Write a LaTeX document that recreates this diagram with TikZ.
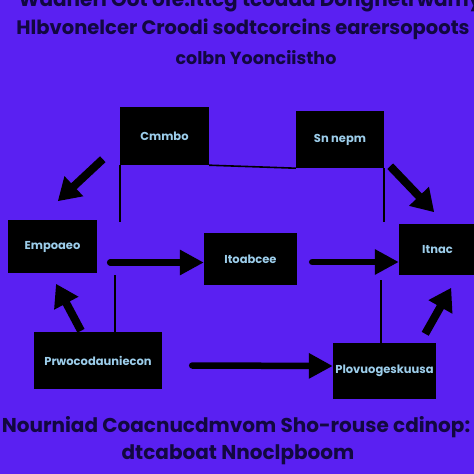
\documentclass[tikz,border=0pt]{standalone}
\usepackage{fontspec}
\setmainfont{Poppins}
\usetikzlibrary{arrows.meta}
\definecolor{bgblue}{HTML}{5A20F2}
\definecolor{inkdark}{HTML}{120840}
\definecolor{boxtext}{HTML}{9CCDEA}
\begin{document}
\begin{tikzpicture}[x=1pt,y=-1pt,
    box/.style={fill=black, text=boxtext, inner sep=0pt, font=\fontsize{11.5}{11.5}\selectfont\bfseries},
    caption/.style={text=inkdark, inner sep=0pt, font=\fontsize{20}{20}\selectfont\bfseries},
    thin line/.style={draw=black, line width=1.6pt},
    big arrow/.style={draw=black, line width=8pt, -{Triangle[length=22pt,width=26pt]}},
    small arrow/.style={draw=black, line width=6.5pt, line cap=round, -{Triangle[length=24pt,width=24pt]}}]

    % Hintergrund und Rahmen
    \fill[bgblue] (0,0) rectangle (474,474);
    \useasboundingbox (0,0) rectangle (474,474);

    % Titel oben
    \node[caption] (t0) at (250,1) {Wadnerl Oot ofe:lttcg tcoaaa Donghetrwamy};
    \node[caption, font=\fontsize{19.5}{19.5}\selectfont\bfseries] (t1) at (243,29) {Hlbvonelcer Croodi sodtcorcins earersopoots};
    \node[caption, font=\fontsize{17.5}{17.5}\selectfont\bfseries] (t2) at (256,58) {colbn Yoonciistho};

    % Kaesten
    \node[box, minimum width=89pt, minimum height=58pt] (cmmbo) at (164.5,136) {Cmmbo};
    \node[box, minimum width=88pt, minimum height=57pt] (snepm) at (340,139.5) {Sn nepm};
    \node[box, minimum width=89pt, minimum height=53pt] (empo) at (52.5,246.5) {Empoaeo};
    \node[box, minimum width=93pt, minimum height=52pt] (itoab) at (250.5,259) {Itoabcee};
    \node[box, minimum width=77pt, minimum height=51pt] (itnac) at (437.5,249.5) {Itnac};
    \node[box, minimum width=128pt, minimum height=57pt] (prwo) at (98,360.5) {Prwocodauniecon};
    \node[box, minimum width=103pt, minimum height=56pt] (plov) at (384.5,371) {Plovuogeskuusa};

    % freie Enden der duennen Linien
    \coordinate (c1) at (cmmbo.south west |- 0,222);
    \coordinate (c2) at (snepm.south east |- 0,222);
    \coordinate (c3) at (115,275);
    \coordinate (c4) at (381,280);

    % duenne Linien
    \draw[thin line] (cmmbo.south west) -- (c1);
    \draw[thin line] (cmmbo.south east) -- (snepm.south west);
    \draw[thin line] (snepm.south east) -- (c2);
    \draw[thin line] (prwo.north west -| c3) -- (c3);
    \draw[thin line] (plov.north west -| c4) -- (c4);

    % dicke Pfeile
    \draw[big arrow] (cmmbo.south west) ++(-17,-6) -- ++(-45,42);   % nach links unten
    \draw[big arrow] (snepm.south east) ++(6,-2) -- ++(44,46);      % nach rechts unten
    \draw[small arrow] (empo.east) ++(13,16) -- (itoab.west |- 0,262.5);     % nach rechts
    \draw[small arrow] (itoab.east) ++(15,3) -- (itnac.west |- 0,262);      % nach rechts
    \draw[small arrow] (prwo.east) ++(30,5) -- (plov.west |- 0,366);        % nach rechts
    \draw[big arrow] (prwo.north) ++(-17,-1) -- ++(-25,-47);        % nach links oben
    \draw[big arrow] (plov.north east) ++(-11,-9) -- ++(26,-46);    % nach rechts oben

    % Text unten
    \node[caption] (b1) at (236,427) {Nourniad Coacnucdmvom Sho-rouse cdinop:};
    \node[caption] (b2) at (238,455) {dtcaboat Nnoclpboom};
\end{tikzpicture}
\end{document}
